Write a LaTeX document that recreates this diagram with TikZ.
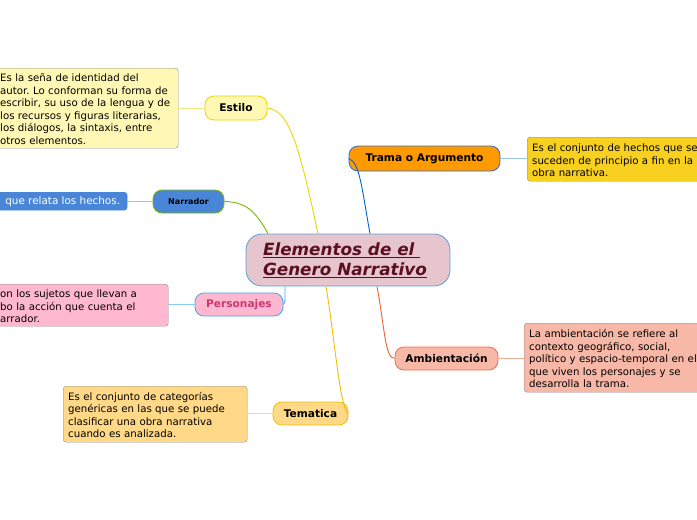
\documentclass[tikz,border=0pt]{standalone}
\usepackage{fontspec}
\setmainfont{DejaVu Sans}
\frenchspacing
\definecolor{cyel}{HTML}{FFF8B4}
\definecolor{cblue}{HTML}{4A86D8}
\definecolor{cpink}{HTML}{FFB8D0}
\definecolor{corng}{HTML}{FFD888}
\definecolor{cgold}{HTML}{F8D020}
\definecolor{csalm}{HTML}{F8B8A8}
\definecolor{ctext}{HTML}{5A1020}
\definecolor{cfill}{HTML}{E6C6CC}
\definecolor{cedge}{HTML}{5AA0D8}
\definecolor{lyel}{HTML}{E8D800}
\definecolor{lgrn}{HTML}{7AB800}
\definecolor{lsky}{HTML}{40A8E8}
\definecolor{lorg}{HTML}{F0C000}
\definecolor{lblu}{HTML}{0060D0}
\definecolor{lred}{HTML}{F06030}
\definecolor{ptxt}{HTML}{C83870}
\definecolor{tora}{HTML}{FF9900}
\definecolor{tbor}{HTML}{3070C8}
\definecolor{abor}{HTML}{F07050}
\begin{document}
\begin{tikzpicture}[x=1pt,y=-1pt,
  topic/.style={draw,line width=0.8pt,rounded corners=9pt,font=\fontsize{10.6}{12}\selectfont\bfseries,inner sep=0pt},
  desc/.style={draw=#1,rounded corners=3pt,font=\fontsize{10.2}{12.5}\selectfont,align=left,inner sep=0pt,anchor=north west},
  desc/.default={black!45}]
\useasboundingbox (0,0) rectangle (697,520);
\clip (0,0) rectangle (697,520);
% central
\node[draw=cedge,fill=cfill,rounded corners=16pt,line width=0.8pt,minimum width=204pt,minimum height=52pt] (c) at (348,260) {};
\node[font=\fontsize{16.8}{20}\selectfont\bfseries\itshape,text=ctext,align=left] (ct) at (345,260) {\underline{Elementos de el\ }\\\underline{Genero Narrativo}};
% topics
\node[topic,draw=lyel,fill=cyel,minimum width=62pt,minimum height=24pt] (es) at (236,108) {Estilo};
\node[topic,draw=lgrn,fill=cblue,minimum width=71pt,minimum height=23pt,font=\fontsize{8}{9}\selectfont\bfseries] (na) at (188.5,201.5) {Narrador};
\node[topic,draw=lsky,fill=cpink,text=ptxt,minimum width=88pt,minimum height=23pt] (pe) at (239,304.5) {Personajes};
\node[topic,draw=lorg,fill=corng,minimum width=75pt,minimum height=23pt] (te) at (310.5,413.5) {Tematica};
\node[topic,draw=tbor,fill=tora,minimum width=151pt,minimum height=25pt] (tr) at (424.5,158.5) {Trama o Argumento};
\node[topic,draw=abor,fill=csalm,minimum width=103pt,minimum height=23pt] (am) at (446.5,358.5) {Ambientación};
% descriptions
\node[desc,fill=cyel,minimum width=183pt,minimum height=80pt,text width=181pt] (esd) at (-5,68) {\hspace*{4pt}\rule{0pt}{10pt}Es la seña de identidad del\\ \hspace*{4pt}autor. Lo conforman su forma de\\ \hspace*{4pt}escribir, su uso de la lengua y de\\ \hspace*{4pt}los recursos y figuras literarias,\\ \hspace*{4pt}los diálogos, la sintaxis, entre\\ \hspace*{4pt}otros elementos.};
\node[desc=cblue,fill=cblue,text=white,minimum width=132pt,minimum height=18pt,font=\fontsize{10.4}{12}\selectfont] (nad) at (-5,192) {\hspace*{3pt}que relata los hechos.};
\node[desc,fill=cpink,minimum width=173pt,minimum height=42pt,text width=171pt] (ped) at (-5,284) {\hspace*{4pt}\rule{0pt}{10pt}on los sujetos que llevan a\\ \hspace*{4pt}bo la acción que cuenta el\\ \hspace*{4pt}arrador.};
\node[desc,fill=corng,minimum width=184pt,minimum height=56pt,text width=182pt] (ted) at (63,386) {\hspace*{4pt}\rule{0pt}{10pt}Es el conjunto de categorías\\ \hspace*{4pt}genéricas en las que se puede\\ \hspace*{4pt}clasificar una obra narrativa\\ \hspace*{4pt}cuando es analizada.};
\node[desc,fill=cgold,minimum width=180pt,minimum height=44pt,text width=178pt] (trd) at (527,137) {\hspace*{4pt}\rule{0pt}{10pt}Es el conjunto de hechos que se\\ \hspace*{4pt}suceden de principio a fin en la\\ \hspace*{4pt}obra narrativa.};
\node[desc,fill=csalm,minimum width=180pt,minimum height=69pt,text width=178pt] (amd) at (524,323) {\hspace*{4pt}\rule{0pt}{10pt}La ambientación se refiere al\\ \hspace*{4pt}contexto geográfico, social,\\ \hspace*{4pt}político y espacio-temporal en el\\ \hspace*{4pt}que viven los personajes y se\\ \hspace*{4pt}desarrolla la trama.};
% connectors to central
\begin{scope}[line width=0.9pt]
\draw[color=lyel] ([xshift=-30pt]c.north) .. controls (300,150) and (290,110) .. (es.east);
\draw[color=lgrn] ([xshift=-80pt]c.north) .. controls (255,210) and (245,202) .. (na.east);
\draw[color=lsky] ([xshift=-63pt]c.south) -- ++(0,10) .. controls (285,302) .. (pe.east);
\draw[color=lorg] ([xshift=-22pt]c.south) .. controls (335,340) and (340,410) .. (te.east);
\draw[color=lblu] ([xshift=22pt]c.north) .. controls (362,190) and (360,162) .. (tr.west);
\draw[color=lred] ([xshift=29pt]c.south) .. controls (385,330) and (385,358) .. (am.west);
\end{scope}
% description links
\draw[color=lyel!50] (es.west) -- (esd.east|-es.west);
\draw[color=lgrn!60] (na.west) -- (nad.east|-na.west);
\draw[color=lsky!60] (pe.west) -- (ped.east|-pe.west);
\draw[color=lorg!50] (te.west) -- (ted.east|-te.west);
\draw[color=cedge!60] (tr.east) -- (trd.west|-tr.east);
\draw[color=abor!60] (am.east) -- (amd.west|-am.east);
\end{tikzpicture}
\end{document}
